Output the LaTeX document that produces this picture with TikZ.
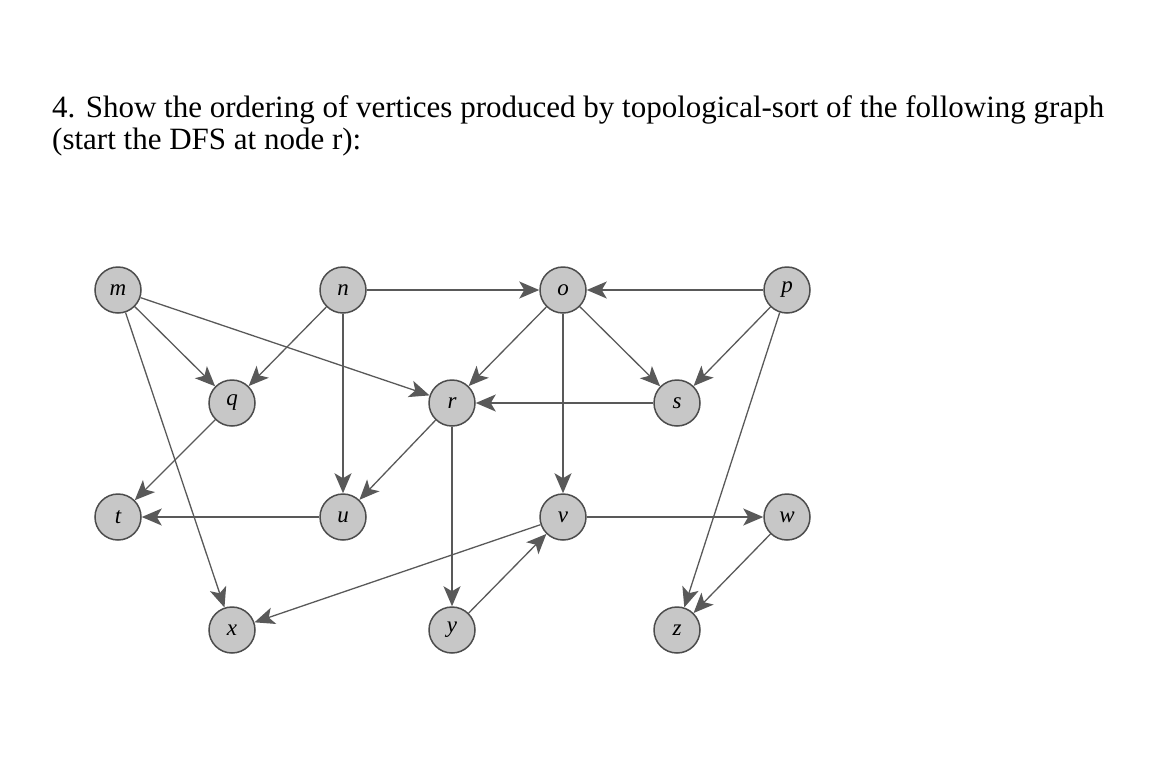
\documentclass[tikz,border=0pt]{standalone}
\usepackage{fontspec}
\setmainfont{Liberation Serif}
\usetikzlibrary{arrows.meta}
\begin{document}
\begin{tikzpicture}[x=1pt,y=-1pt,
  v/.style={circle,draw=black!70,line width=1.5pt,fill=black!22,minimum size=46pt,inner sep=0pt,font=\fontsize{23}{23}\selectfont\itshape},
  e/.style={draw=black!65,line width=1.3pt,-{Stealth[length=20pt,width=17pt,inset=5pt]}}]
\useasboundingbox (0,0) rectangle (1158,766);
\node[anchor=base west,font=\fontsize{31}{32}\selectfont,inner sep=0pt] (t1) at (52,117) {4. Show the ordering of vertices produced by topological-sort of the following graph};
\node[anchor=base west,font=\fontsize{31}{32}\selectfont,inner sep=0pt] (t2) at (52,149) {(start the DFS at node r):};
\node[v] (m) at (118,290) {m};
\node[v] (n) at (343,290) {n};
\node[v] (o) at (563,290) {o};
\node[v] (p) at (787,290) {p};
\node[v] (q) at (232,403) {q};
\node[v] (r) at (452,403) {r};
\node[v] (s) at (677,403) {s};
\node[v] (t) at (118,517) {t};
\node[v] (u) at (343,517) {u};
\node[v] (vv) at (563,517) {v};
\node[v] (w) at (787,517) {w};
\node[v] (x) at (232,630) {x};
\node[v] (y) at (452,630) {y};
\node[v] (z) at (677,630) {z};
\draw[e] (m)--(q); \draw[e] (m)--(r); \draw[e] (m)--(x);
\draw[e] (n)--(q); \draw[e] (n)--(u); \draw[e] (n)--(o);
\draw[e] (o)--(r); \draw[e] (o)--(s); \draw[e] (o)--(vv);
\draw[e] (p)--(o); \draw[e] (p)--(s); \draw[e] (p)--(z);
\draw[e] (q)--(t); \draw[e] (r)--(u); \draw[e] (r)--(y);
\draw[e] (s)--(r); \draw[e] (u)--(t); \draw[e] (vv)--(x);
\draw[e] (vv)--(w); \draw[e] (w)--(z); \draw[e] (y)--(vv);
\end{tikzpicture}
\end{document}
